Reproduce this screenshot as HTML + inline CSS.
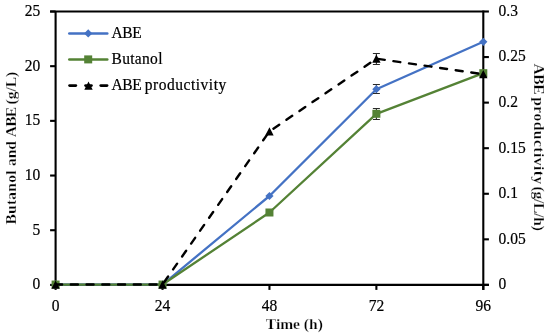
<!DOCTYPE html><html><head><meta charset="utf-8"><style>html,body{margin:0;padding:0;background:#fff;}svg{display:block;}text{font-family:"Liberation Serif", serif;fill:#000;stroke:#000;stroke-width:0.2px;}text[font-weight]{stroke:#fff;stroke-width:0.25px;}</style></head><body>
<svg width="550" height="335" viewBox="0 0 550 335">
<g stroke="#000" stroke-width="2.1" fill="none">
<line x1="50.1" y1="11.5" x2="483.3" y2="11.5"/>
<line x1="55.6" y1="11.5" x2="55.6" y2="284.9"/>
<line x1="483.3" y1="10.45" x2="483.3" y2="289.9"/>
<line x1="55.6" y1="284.9" x2="488.90000000000003" y2="284.9"/>
<line x1="50.1" y1="284.90" x2="55.6" y2="284.90"/>
<line x1="50.1" y1="230.22" x2="55.6" y2="230.22"/>
<line x1="50.1" y1="175.54" x2="55.6" y2="175.54"/>
<line x1="50.1" y1="120.86" x2="55.6" y2="120.86"/>
<line x1="50.1" y1="66.18" x2="55.6" y2="66.18"/>
<line x1="50.1" y1="11.50" x2="55.6" y2="11.50"/>
<line x1="483.3" y1="284.90" x2="488.90000000000003" y2="284.90"/>
<line x1="483.3" y1="239.33" x2="488.90000000000003" y2="239.33"/>
<line x1="483.3" y1="193.77" x2="488.90000000000003" y2="193.77"/>
<line x1="483.3" y1="148.20" x2="488.90000000000003" y2="148.20"/>
<line x1="483.3" y1="102.63" x2="488.90000000000003" y2="102.63"/>
<line x1="483.3" y1="57.07" x2="488.90000000000003" y2="57.07"/>
<line x1="483.3" y1="11.50" x2="488.90000000000003" y2="11.50"/>
<line x1="55.60" y1="284.9" x2="55.60" y2="289.9"/>
<line x1="162.53" y1="284.9" x2="162.53" y2="289.9"/>
<line x1="269.45" y1="284.9" x2="269.45" y2="289.9"/>
<line x1="376.38" y1="284.9" x2="376.38" y2="289.9"/>
<line x1="483.30" y1="284.9" x2="483.30" y2="289.9"/>
</g>
<polyline points="55.60,284.55 162.53,284.55 269.45,195.99 376.38,89.20 483.30,41.79" fill="none" stroke="#4472C4" stroke-width="2.3" stroke-linejoin="round" stroke-linecap="round"/>
<path d="M55.60,280.45 L59.70,284.55 L55.60,288.65 L51.50,284.55Z" fill="#4472C4"/>
<path d="M162.53,280.45 L166.62,284.55 L162.53,288.65 L158.43,284.55Z" fill="#4472C4"/>
<path d="M269.45,191.89 L273.55,195.99 L269.45,200.09 L265.35,195.99Z" fill="#4472C4"/>
<path d="M376.38,84.5V93.5M372.88,84.5H379.88M372.88,93.5H379.88" stroke="#2a2a2a" stroke-width="1.1" fill="none"/>
<path d="M376.38,85.10 L380.48,89.20 L376.38,93.30 L372.27,89.20Z" fill="#4472C4"/>
<path d="M483.30,37.69 L487.40,41.79 L483.30,45.89 L479.20,41.79Z" fill="#4472C4"/>
<polyline points="55.60,284.55 162.53,284.55 269.45,212.50 376.38,113.80 483.30,73.18" fill="none" stroke="#548235" stroke-width="2.3" stroke-linejoin="round" stroke-linecap="round"/>
<rect x="51.60" y="280.55" width="8.00" height="8.00" fill="#548235"/>
<rect x="158.53" y="280.55" width="8.00" height="8.00" fill="#548235"/>
<rect x="265.45" y="208.50" width="8.00" height="8.00" fill="#548235"/>
<path d="M376.38,108.5V119.5M372.88,108.5H379.88M372.88,119.5H379.88" stroke="#2a2a2a" stroke-width="1.1" fill="none"/>
<rect x="372.38" y="109.80" width="8.00" height="8.00" fill="#548235"/>
<rect x="479.30" y="69.18" width="8.00" height="8.00" fill="#548235"/>
<polyline points="55.60,284.55 162.53,284.55 269.45,131.34 376.38,58.70 483.30,74.20" fill="none" stroke="#000" stroke-width="2.4" stroke-dasharray="7.0 8.74" stroke-dashoffset="0.5" stroke-linejoin="round" stroke-linecap="round"/>
<path d="M55.60,280.45 L59.80,288.65 L51.40,288.65Z" fill="#000"/>
<path d="M162.53,280.45 L166.72,288.65 L158.33,288.65Z" fill="#000"/>
<path d="M269.45,127.24 L273.65,135.44 L265.25,135.44Z" fill="#000"/>
<path d="M376.38,53.5V64.5M372.88,53.5H379.88M372.88,64.5H379.88" stroke="#2a2a2a" stroke-width="1.1" fill="none"/>
<path d="M376.38,54.60 L380.57,62.80 L372.18,62.80Z" fill="#000"/>
<path d="M483.30,70.10 L487.50,78.30 L479.10,78.30Z" fill="#000"/>
<line x1="69.3" y1="33.4" x2="107.3" y2="33.4" stroke="#4472C4" stroke-width="2.5" stroke-linecap="round"/>
<path d="M88.20,29.30 L92.30,33.40 L88.20,37.50 L84.10,33.40Z" fill="#4472C4"/>
<line x1="69.3" y1="59.4" x2="107.3" y2="59.4" stroke="#548235" stroke-width="2.5" stroke-linecap="round"/>
<rect x="84.20" y="55.40" width="8.00" height="8.00" fill="#548235"/>
<line x1="69.6" y1="85.6" x2="75.8" y2="85.6" stroke="#000" stroke-width="2.8" stroke-linecap="round"/>
<line x1="100.8" y1="85.6" x2="107.0" y2="85.6" stroke="#000" stroke-width="2.8" stroke-linecap="round"/>
<line x1="85.6" y1="85.6" x2="91.4" y2="85.6" stroke="#000" stroke-width="2.8" stroke-linecap="round"/>
<path d="M88.50,81.50 L92.70,89.70 L84.30,89.70Z" fill="#000"/>
<text transform="translate(40.3,289.25) scale(1,1.07)" font-size="15.5" text-anchor="end" >0</text>
<text transform="translate(40.3,234.57) scale(1,1.07)" font-size="15.5" text-anchor="end" >5</text>
<text transform="translate(40.3,179.89) scale(1,1.07)" font-size="15.5" text-anchor="end" >10</text>
<text transform="translate(40.3,125.21) scale(1,1.07)" font-size="15.5" text-anchor="end" >15</text>
<text transform="translate(40.3,70.53) scale(1,1.07)" font-size="15.5" text-anchor="end" >20</text>
<text transform="translate(40.3,15.85) scale(1,1.07)" font-size="15.5" text-anchor="end" >25</text>
<text transform="translate(498.6,289.25) scale(1,1.07)" font-size="15.5" text-anchor="start" >0</text>
<text transform="translate(498.6,243.68) scale(1,1.07)" font-size="15.5" text-anchor="start" >0.05</text>
<text transform="translate(498.6,198.12) scale(1,1.07)" font-size="15.5" text-anchor="start" >0.1</text>
<text transform="translate(498.6,152.55) scale(1,1.07)" font-size="15.5" text-anchor="start" >0.15</text>
<text transform="translate(498.6,106.98) scale(1,1.07)" font-size="15.5" text-anchor="start" >0.2</text>
<text transform="translate(498.6,61.42) scale(1,1.07)" font-size="15.5" text-anchor="start" >0.25</text>
<text transform="translate(498.6,15.85) scale(1,1.07)" font-size="15.5" text-anchor="start" >0.3</text>
<text transform="translate(55.60,310.7) scale(1,1.07)" font-size="15.5" text-anchor="middle" >0</text>
<text transform="translate(162.53,310.7) scale(1,1.07)" font-size="15.5" text-anchor="middle" >24</text>
<text transform="translate(269.45,310.7) scale(1,1.07)" font-size="15.5" text-anchor="middle" >48</text>
<text transform="translate(376.38,310.7) scale(1,1.07)" font-size="15.5" text-anchor="middle" >72</text>
<text transform="translate(483.30,310.7) scale(1,1.07)" font-size="15.5" text-anchor="middle" >96</text>
<text x="294.35" y="329.2" font-size="15.5" font-weight="bold" text-anchor="middle">Time (h)</text>
<text transform="translate(16.3,224.5) rotate(-90)" font-size="15.5" font-weight="bold" textLength="54.0">Butanol</text>
<text transform="translate(16.3,166.0) rotate(-90)" font-size="15.5" font-weight="bold">and</text>
<text transform="translate(16.3,137.2) rotate(-90)" font-size="15.5" font-weight="bold" textLength="30.4">ABE</text>
<text transform="translate(16.3,104.5) rotate(-90)" font-size="15.5" font-weight="bold">(g/L)</text>
<text transform="translate(533.8,63.6) rotate(90)" font-size="15.5" font-weight="bold" textLength="31.0">ABE</text>
<text transform="translate(533.8,97.2) rotate(90)" font-size="15.5" font-weight="bold" textLength="87.1">productivity</text>
<text transform="translate(533.8,186.5) rotate(90)" font-size="15.5" font-weight="bold" textLength="44.3">(g/L/h)</text>
<text transform="translate(111.5,37.8) scale(1,1.04)" font-size="15.5" text-anchor="start" textLength="30.1">ABE</text>
<text transform="translate(111.5,63.8) scale(1,1.04)" font-size="15.5" text-anchor="start" textLength="51">Butanol</text>
<text transform="translate(111.5,90.2) scale(1,1.04)" font-size="15.5" text-anchor="start" textLength="30.1">ABE</text>
<text transform="translate(144.7,90.2) scale(1,1.04)" font-size="15.5" text-anchor="start" textLength="81.6">productivity</text>
</svg></body></html>
